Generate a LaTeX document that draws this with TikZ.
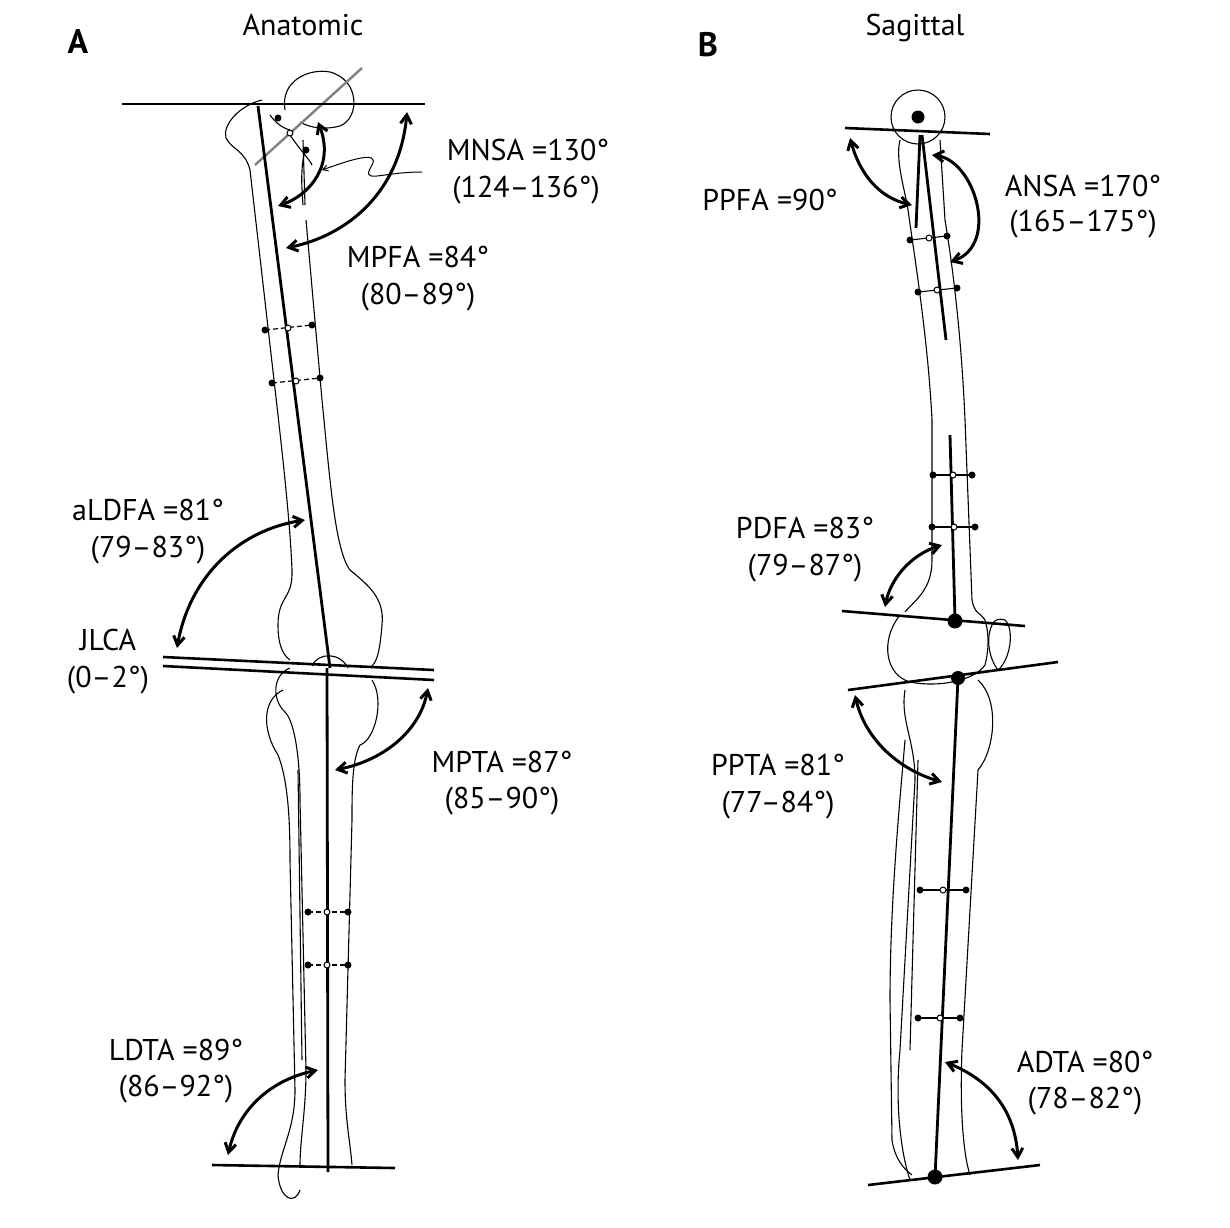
\documentclass[tikz,border=0pt]{standalone}
\usepackage{fontspec}
\setmainfont{PT Sans}
\usetikzlibrary{arrows.meta}
\begin{document}
\begin{tikzpicture}[x=1pt,y=-1pt,
  ln/.style={line width=2.6pt},
  ax/.style={line width=2.8pt},
  bone/.style={line width=1.1pt},
  arr/.style={line width=3pt,{Straight Barb[length=9pt,width=11pt]}-{Straight Barb[length=9pt,width=11pt]}},
  lbl/.style={font=\fontsize{30}{32}\selectfont, align=center, inner sep=0pt},
  dotb/.style={circle,fill=black,inner sep=0pt,minimum size=7pt},
  doth/.style={circle,draw=black,fill=white,line width=1pt,inner sep=0pt,minimum size=6pt},
  dsh/.style={line width=1.2pt,dash pattern=on 5pt off 3pt}]
\useasboundingbox (0,0) rectangle (1230,1227);
% ---------- Panel A ----------
\node[font=\bfseries\fontsize{34}{34}\selectfont] (tA) at (78,42) {A};
\node[lbl] (tAn) at (303,25) {Anatomic};
% femur outline
\draw[bone] (262,100) .. controls (240,105) and (222,125) .. (226,138)
  .. controls (232,150) and (245,150) .. (250,170)
  -- (274,380) .. controls (282,450) and (290,520) .. (292,570)
  .. controls (293,600) and (278,595) .. (278,625) .. controls (278,645) and (283,655) .. (290,660);
\draw[bone] (303,140) -- (305,205);
\draw[bone] (306,220) -- (322,400) .. controls (330,480) and (335,550) .. (350,570)
  .. controls (368,585) and (385,598) .. (382,625) .. controls (380,648) and (378,660) .. (372,666);
\draw[bone] (270,115) .. controls (275,122) and (282,128) .. (290,130);
% femoral head
\draw[bone] (285,110) .. controls (280,80) and (310,68) .. (330,72) .. controls (360,80) and (360,118) .. (340,126)
  .. controls (325,130) and (310,128) .. (300,122);
\draw[bone] (290,135) .. controls (300,150) and (310,160) .. (312,165);
\draw[bone] (305,150) .. controls (300,170) and (302,190) .. (303,205);
\draw[line width=2.4pt,gray] (255,165) -- (362,68);
\draw[ln] (122,104) -- (425,104);
\draw[ax] (258,106) -- (330,668);
\node[dotb] at (278,118) {}; \node[doth] at (290,133) {}; \node[dotb] at (306,150) {};
% femur measuring dots
\draw[dsh] (265,330) -- (312,325); \node[dotb] at (265,330) {}; \node[doth] at (288,328) {}; \node[dotb] at (312,325) {};
\draw[dsh] (272,383) -- (320,378); \node[dotb] at (272,383) {}; \node[doth] at (296,381) {}; \node[dotb] at (320,378) {};
% knee lines
\draw[ln] (163,657) -- (434,670);
\draw[ln] (163,666) -- (434,680);
\draw[bone] (312,666) .. controls (318,652) and (340,652) .. (348,668);
% tibia outline
\draw[bone] (290,668) .. controls (272,675) and (272,700) .. (285,712)
  .. controls (295,722) and (300,760) .. (300,800) -- (306,1070) .. controls (306,1110) and (300,1140) .. (300,1165);
\draw[bone] (372,680) .. controls (385,700) and (375,740) .. (360,745) .. controls (352,760) and (352,790) .. (352,820)
  -- (345,1080) .. controls (345,1120) and (350,1140) .. (352,1165);
\draw[bone] (283,690) .. controls (262,700) and (262,730) .. (278,755) .. controls (288,780) and (290,820) .. (290,860)
  -- (295,1090) .. controls (295,1130) and (280,1150) .. (278,1175) .. controls (280,1200) and (295,1205) .. (300,1190);
\draw[bone] (298,770) -- (302,1060);
\draw[ax] (327,668) -- (328,1172);
\draw[ln] (212,1165) -- (395,1168);
\draw[dsh] (308,912) -- (348,912); \node[dotb] at (308,912) {}; \node[doth] at (327,912) {}; \node[dotb] at (348,912) {};
\draw[dsh] (308,965) -- (348,965); \node[dotb] at (308,965) {}; \node[doth] at (327,965) {}; \node[dotb] at (348,965) {};
% arrows A
\draw[arr] (318,122) .. controls (335,165) and (310,195) .. (278,206);
\draw[arr] (407,112) .. controls (400,190) and (350,235) .. (286,248);
\draw[arr] (305,520) .. controls (240,530) and (190,575) .. (177,648);
\draw[arr] (428,688) .. controls (420,730) and (385,760) .. (335,770);
\draw[arr] (318,1070) .. controls (270,1080) and (238,1110) .. (228,1155);
\draw[line width=1pt,-{Straight Barb[length=5pt,width=6pt]}] (422,172) .. controls (380,172) and (360,185) .. (372,165) .. controls (380,150) and (350,160) .. (322,170);
\node[lbl] (l1) at (528,150) {MNSA =130°};
\node[lbl] (l1b) at (526,190) {(124–136°)};
\node[lbl] (l2) at (418,257) {MPFA =84°};
\node[lbl] (l2b) at (418,297) {(80–89°)};
\node[lbl] (l3) at (148,510) {aLDFA =81°};
\node[lbl] (l3b) at (148,550) {(79–83°)};
\node[lbl] (l4) at (108,640) {JLCA};
\node[lbl] (l4b) at (108,680) {(0–2°)};
\node[lbl] (l5) at (502,762) {MPTA =87°};
\node[lbl] (l5b) at (502,801) {(85–90°)};
\node[lbl] (l6) at (176,1050) {LDTA =89°};
\node[lbl] (l6b) at (176,1089) {(86–92°)};
% ---------- Panel B ----------
\node[font=\bfseries\fontsize{34}{34}\selectfont] (tB) at (708,45) {B};
\node[lbl] (tS) at (915,28) {Sagittal};
\draw[bone] (918,117) circle (27);
\node[circle,fill=black,inner sep=0pt,minimum size=13pt] at (918,117) {};
\draw[ln] (845,128) -- (990,134);
% femur outline B
\draw[bone] (900,140) .. controls (895,160) and (905,190) .. (908,210) .. controls (915,260) and (928,340) .. (932,420) -- (932,560)
  .. controls (932,590) and (915,600) .. (905,612);
\draw[bone] (940,140) -- (945,220) .. controls (955,280) and (962,350) .. (965,420) -- (972,600) .. controls (975,615) and (980,612) .. (985,620);
\draw[ax] (920,135) -- (916,228);
\draw[ax] (922,135) -- (946,340);
\draw[ax] (950,435) -- (955,620);
\draw[bone] (910,240) -- (947,236); \node[dotb] at (910,240) {}; \node[doth] at (929,238) {}; \node[dotb] at (947,236) {};
\draw[bone] (918,292) -- (957,288); \node[dotb] at (918,292) {}; \node[doth] at (937,290) {}; \node[dotb] at (957,288) {};
\draw[bone] (933,475) -- (972,475); \node[dotb] at (933,475) {}; \node[doth] at (953,475) {}; \node[dotb] at (972,475) {};
\draw[bone] (932,527) -- (975,527); \node[dotb] at (932,527) {}; \node[doth] at (954,527) {}; \node[dotb] at (975,527) {};
% condyle & patella
\draw[bone] (900,615) .. controls (880,640) and (885,675) .. (910,682) .. controls (940,688) and (975,680) .. (985,665) .. controls (990,645) and (988,630) .. (985,620);
\draw[bone] (992,625) .. controls (985,640) and (990,660) .. (998,670) .. controls (1010,660) and (1015,630) .. (1005,620) .. controls (998,618) and (994,620) .. (992,625);
\node[circle,fill=black,inner sep=0pt,minimum size=15pt] at (955,621) {};
\draw[ln] (842,611) -- (1025,626);
\draw[ln] (848,690) -- (1058,662);
\node[circle,fill=black,inner sep=0pt,minimum size=14pt] at (958,678) {};
% tibia outline B
\draw[bone] (905,690) .. controls (900,720) and (915,740) .. (915,780) -- (900,1050) .. controls (895,1100) and (900,1150) .. (910,1180);
\draw[bone] (978,680) .. controls (1000,700) and (995,750) .. (978,770) -- (962,1050) .. controls (960,1100) and (962,1150) .. (970,1175);
\draw[bone] (905,740) .. controls (900,800) and (890,900) .. (890,1000) -- (892,1140) .. controls (895,1160) and (905,1170) .. (912,1175);
\draw[bone] (918,760) -- (910,1050);
\draw[ax] (958,678) -- (935,1177);
\node[circle,fill=black,inner sep=0pt,minimum size=15pt] at (935,1177) {};
\draw[ln] (868,1185) -- (1040,1165);
\draw[bone] (920,890) -- (966,890); \node[dotb] at (920,890) {}; \node[doth] at (943,890) {}; \node[dotb] at (966,890) {};
\draw[bone] (918,1018) -- (960,1018); \node[dotb] at (918,1018) {}; \node[doth] at (940,1018) {}; \node[dotb] at (960,1018) {};
% arrows B
\draw[arr] (850,138) .. controls (860,175) and (880,198) .. (912,205);
\draw[arr] (932,155) .. controls (975,160) and (1000,245) .. (950,262);
\draw[arr] (942,545) .. controls (910,555) and (890,580) .. (885,607);
\draw[arr] (855,695) .. controls (865,740) and (900,770) .. (942,782);
\draw[arr] (945,1062) .. controls (990,1080) and (1015,1110) .. (1018,1160);
\node[lbl] (r1) at (770,200) {PPFA =90°};
\node[lbl] (r2) at (1083,186) {ANSA =170°};
\node[lbl] (r2b) at (1083,224) {(165–175°)};
\node[lbl] (r3) at (805,528) {PDFA =83°};
\node[lbl] (r3b) at (805,568) {(79–87°)};
\node[lbl] (r4) at (778,765) {PPTA =81°};
\node[lbl] (r4b) at (778,805) {(77–84°)};
\node[lbl] (r5) at (1085,1062) {ADTA =80°};
\node[lbl] (r5b) at (1085,1101) {(78–82°)};
\end{tikzpicture}
\end{document}
